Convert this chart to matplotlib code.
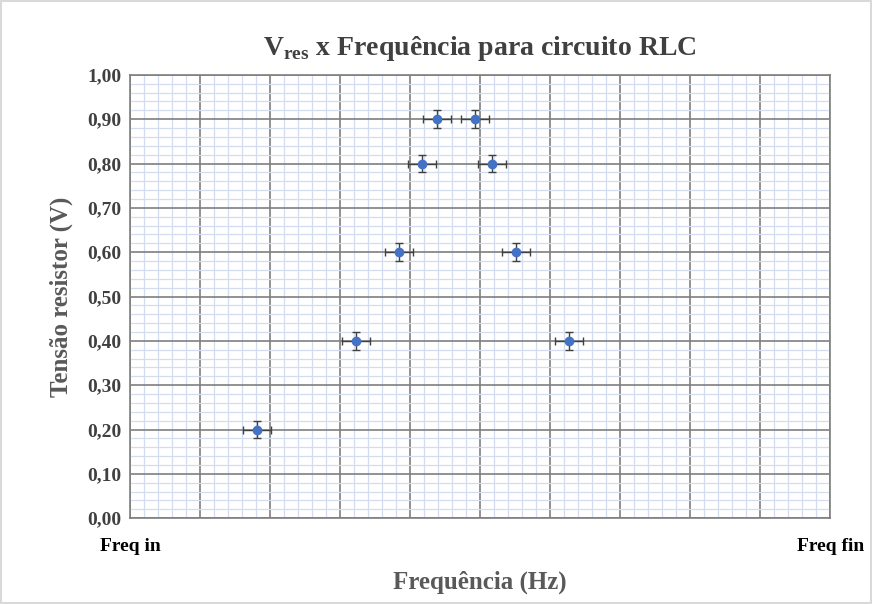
import matplotlib.pyplot as plt
import numpy as np

plt.rcParams['font.family'] = ['Liberation Serif', 'DejaVu Serif']
plt.rcParams['mathtext.fontset'] = 'custom'
plt.rcParams['mathtext.rm'] = 'Liberation Serif'
plt.rcParams['mathtext.bf'] = 'Liberation Serif:bold'

# Data (x in grid divisions between "Freq in" and "Freq fin")
freq = [1.81, 3.23, 3.84, 4.17, 4.39, 4.93, 5.17, 5.51, 6.27]
v_res = [0.20, 0.40, 0.60, 0.80, 0.90, 0.90, 0.80, 0.60, 0.40]
freq_err = [0.2] * 9
v_err = [0.02] * 9
y_ticks = np.round(np.arange(0, 1.01, 0.1), 2)

fig = plt.figure(figsize=(8.72, 6.04), dpi=100)
ax = fig.add_axes([0.149, 0.142, 0.803, 0.734])

ax.set_xlim(0, 10)
ax.set_ylim(0, 1)
ax.set_xticks(np.arange(0, 11, 1))
xm = np.arange(0, 10.01, 0.2)
ax.set_xticks(xm[np.abs(xm - np.round(xm)) > 0.01], minor=True)
ax.set_yticks(y_ticks)
ym = np.arange(0, 1.001, 0.02)
ax.set_yticks(ym[np.abs(ym * 10 - np.round(ym * 10)) > 0.01], minor=True)
ax.grid(which='minor', color='#d3ddef', linewidth=0.9)
ax.grid(which='major', color='#7f7f7f', linewidth=1.2)
ax.set_axisbelow(True)
for s in ax.spines.values():
    s.set_color('#7f7f7f')
    s.set_linewidth(1.2)

ax.errorbar(freq, v_res, xerr=freq_err, yerr=v_err, fmt='o', color='#4472c4',
            ms=6, ecolor='#404040', elinewidth=1, capsize=3, zorder=3)

ax.set_yticklabels([f"{v:.2f}".replace('.', ',') for v in y_ticks],
                   fontsize=14, fontweight='bold', color='#404040')
ax.set_xticklabels([])
ax.tick_params(length=0, which='both', pad=6)

ax.text(0.0, -0.045, 'Freq in', transform=ax.transAxes, ha='center', va='top',
        fontsize=14, fontweight='bold')
ax.text(1.0, -0.045, 'Freq fin', transform=ax.transAxes, ha='center', va='top',
        fontsize=14, fontweight='bold')

ax.set_xlabel('Frequência (Hz)', fontsize=18, fontweight='bold', color='#595959', labelpad=32)
ax.set_ylabel('Tensão resistor (V)', fontsize=18, fontweight='bold', color='#595959', labelpad=10)
ax.set_title(r'V$_{\mathbf{res}}$ x Frequência para circuito RLC', fontsize=20,
             fontweight='bold', color='#404040', pad=14)

fig.patches.append(plt.Rectangle((0.001, 0.001), 0.998, 0.998, transform=fig.transFigure,
                                 fill=False, edgecolor='#d9d9d9', linewidth=1.5))

plt.savefig('out.png', dpi=100)
